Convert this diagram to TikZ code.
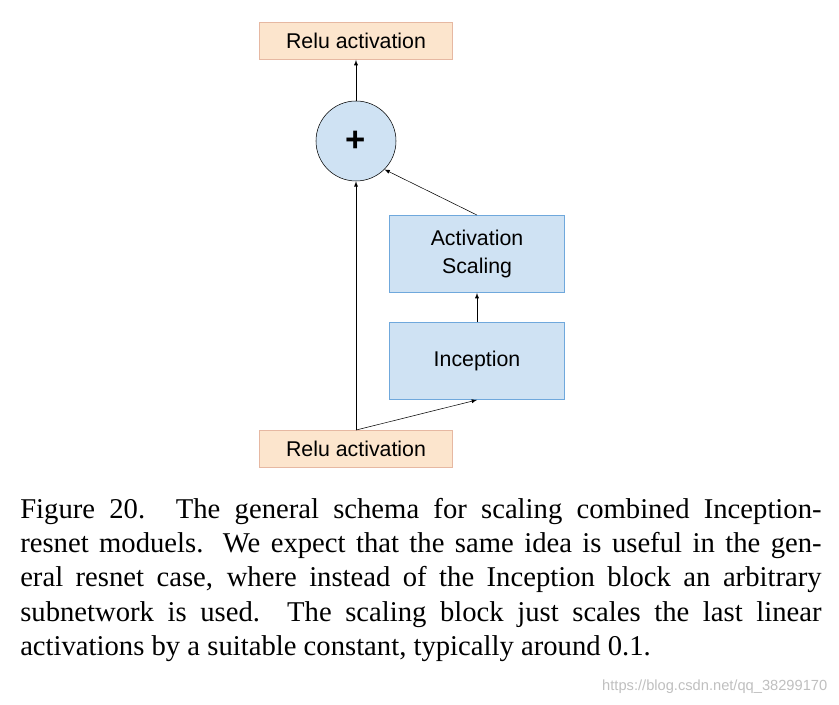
\documentclass[tikz,border=0pt]{standalone}
\usepackage{fontspec}
\setmainfont{Liberation Serif}
\setsansfont{Liberation Sans}
\usetikzlibrary{positioning}
\definecolor{reluFill}{HTML}{FCE5CD}
\definecolor{reluLine}{HTML}{E6B8A2}
\definecolor{blkFill}{HTML}{CFE2F3}
\definecolor{blkLine}{HTML}{6FA8DC}
\tikzset{
  relu/.style={draw=reluLine, fill=reluFill, minimum width=145pt, minimum height=28pt, font=\sffamily\fontsize{16}{19}\selectfont},
  block/.style={draw=blkLine, fill=blkFill, minimum width=131pt, minimum height=58pt, align=center, font=\sffamily\fontsize{16}{21}\selectfont},
  sum/.style={circle, draw, fill=blkFill, minimum size=60pt, inner sep=0pt},
  arr/.style={-latex, thin}
}
\begin{document}
\begin{tikzpicture}[x=0.75pt, y=-0.75pt]
  \useasboundingbox (0,0) rectangle (839,705);
  \node [relu] (out) at (356,41) {Relu activation};
  \node [sum] (add) at (356,141) {\sffamily\bfseries\fontsize{26}{26}\selectfont +};
  \node [block] (scale) at (477,254) {Activation\\Scaling};
  \node [block] (incep) at (477,361) {Inception};
  \node [relu] (in) at (356,449) {Relu activation};

  \draw [arr] (in.north) -- (add.south);
  \draw [arr] (in.north) -- (incep.south);
  \draw [arr] (incep) -- (scale);
  \draw [arr] (scale.north) -- (add.-45);
  \draw [arr] (add) -- (out);

  \node [anchor=north west, text width=601pt, align=justify, inner sep=0pt,
    font=\fontsize{21.5}{25.7}\selectfont] (caption) at (20,498)
    {Figure 20. The general schema for scaling combined Inception-\linebreak resnet moduels. We expect that the same idea is useful in the gen-\linebreak eral resnet case, where instead of the Inception block an arbitrary\linebreak subnetwork is used.\ \ The scaling block just scales the last linear\linebreak activations by a suitable constant, typically around 0.1.};
  \node [anchor=south east, text=black!25, font=\sffamily\fontsize{11}{13}\selectfont] (mark) at (832,698) {https://blog.csdn.net/qq\_38299170};
\end{tikzpicture}
\end{document}
